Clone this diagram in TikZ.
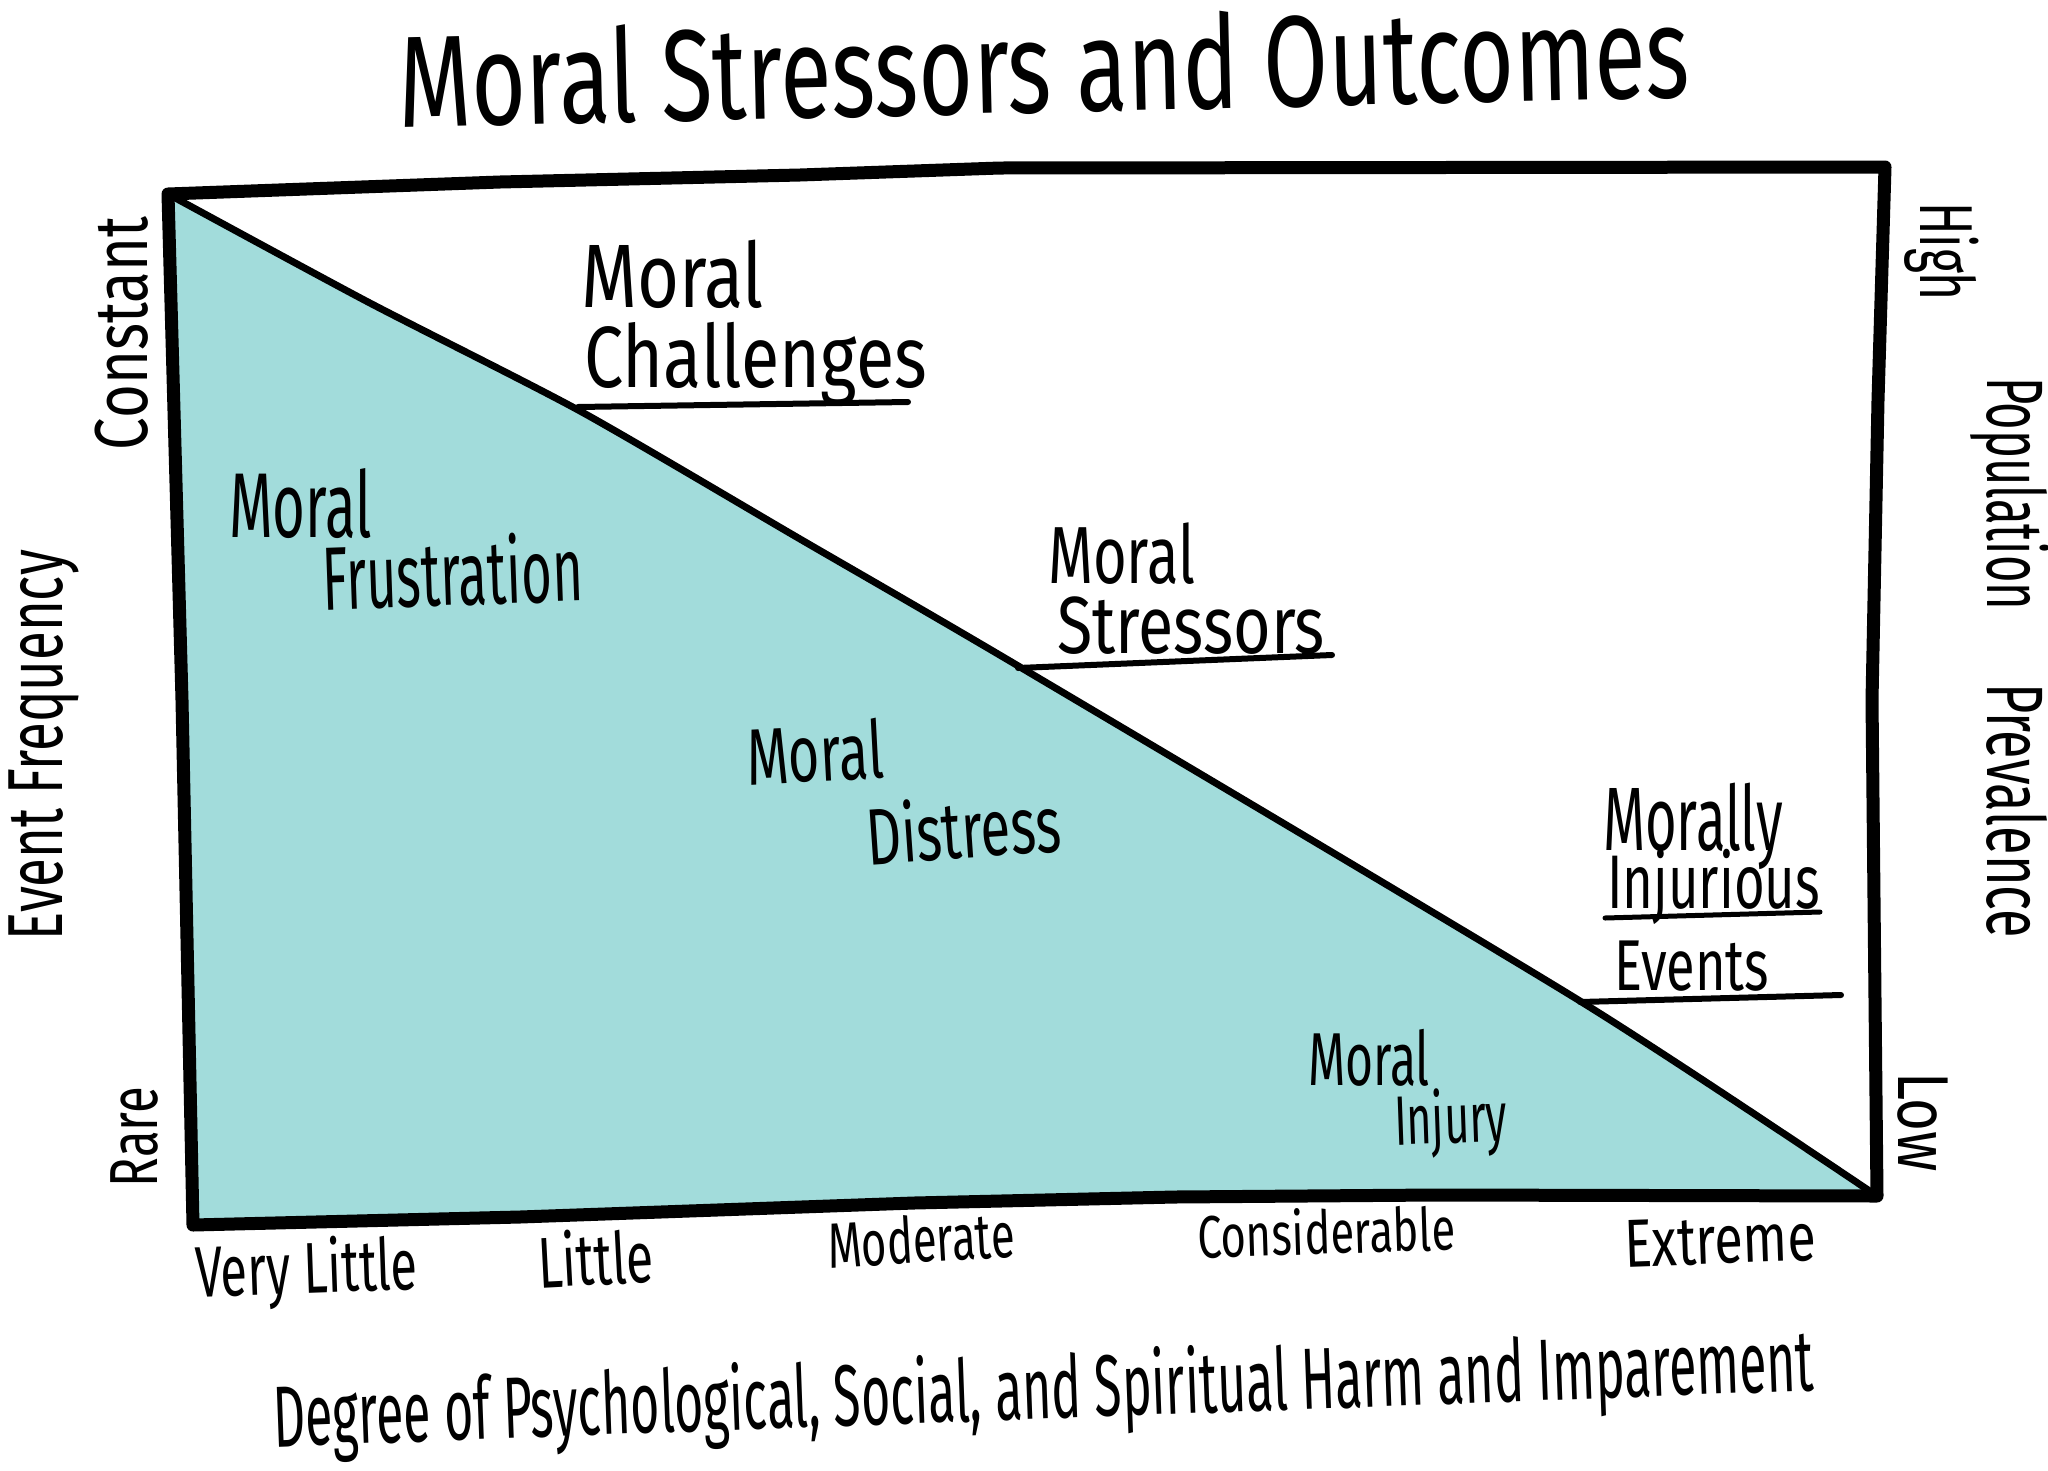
\documentclass[tikz,border=0pt]{standalone}
\usepackage{fontspec}
\setmainfont{Fira Sans}
\usepackage{graphicx}
\definecolor{tealfill}{RGB}{162,220,219}
\newcommand{\hw}[3]{\resizebox{#1pt}{\height}{\fontsize{#2pt}{#2pt}\selectfont #3}}
\tikzset{
  lbl/.style={inner sep=0pt, outer sep=0pt, anchor=base west, text=black},
  frame/.style={line width=13pt, line cap=round, line join=round},
  diag/.style={line width=7pt, line cap=round, line join=round},
  uline/.style={line width=6pt, line cap=round},
}
\begin{document}
\begin{tikzpicture}[x=1pt,y=-1pt]
\useasboundingbox (0,0) rectangle (2048,1470);
\fill[white] (0,0) rectangle (2048,1470);

% corners and diagonal points
\coordinate (TL) at (168,194);
\coordinate (TR) at (1885,167);
\coordinate (BR) at (1877,1196);
\coordinate (BL) at (193,1225);
\coordinate (d1) at (368,302);
\coordinate (d2) at (580,411);
\coordinate (d3) at (800,539);
\coordinate (d4) at (1020,667);
\coordinate (d6) at (1580,1001);
\coordinate (b1) at (1436,1195);
\coordinate (b2) at (1175,1197);
\coordinate (b3) at (914,1203);
\coordinate (b4) at (520,1217);
\coordinate (l1) at (182,700);

% teal area
\fill[tealfill] plot[smooth, tension=0.4] coordinates {(TL) (d1) (d2) (d3) (d4) (d6) (BR)}
  -- (b1) -- (b2) -- (b3) -- (b4) -- (BL) -- (l1) -- cycle;

% frame
\draw[frame] (TL) -- (500,182) -- (800,175) -- (1000,168) -- (TR)
  -- (1878,400) -- (1872,700) -- (1875,1000) -- (BR)
  -- (b1) -- (b2) -- (b3) -- (b4) -- (BL) -- (l1) -- cycle;

% diagonal
\draw[diag] plot[smooth, tension=0.4] coordinates {(TL) (d1) (d2) (d3) (d4) (d6) (BR)};

% title
\node[lbl, rotate=1.3] (title) at (399,127) {\hw{1292}{130}{Moral Stressors and Outcomes}};

% upper labels
\node[lbl] (mch) at (581,307) {\hw{183}{90}{Moral}};
\node[lbl] (ch) at (584,387) {\hw{343}{87}{Challenges}};
\coordinate (u1a) at (578,407); \coordinate (u1b) at (908,402);
\draw[uline] (u1a) -- (u1b);

\node[lbl] (mst) at (1048,583) {\hw{147}{81}{Moral}};
\node[lbl] (st) at (1057,653) {\hw{268}{81}{Stressors}};
\coordinate (u2a) at (1018,668); \coordinate (u2b) at (1332,655);
\draw[uline] (u2a) -- (u2b);

\node[lbl] (mly) at (1603,850) {\hw{180}{90}{Morally}};
\node[lbl] (inj) at (1607,908) {\hw{213}{76}{Injurious}};
\coordinate (u3a) at (1605,918); \coordinate (u3b) at (1820,912);
\draw[line width=5pt, line cap=round] (u3a) -- (u3b);
\node[lbl] (ev) at (1614,990) {\hw{155}{72}{Events}};
\coordinate (u4a) at (1580,1002); \coordinate (u4b) at (1841,995);
\draw[uline] (u4a) -- (u4b);

% lower labels
\node[lbl] (mfr) at (229,537) {\hw{143}{92}{Moral}};
\node[lbl, rotate=2] (fr) at (323,610) {\hw{261}{90}{Frustration}};
\node[lbl, rotate=3] (mdi) at (748,785) {\hw{137}{80}{Moral}};
\node[lbl, rotate=4] (di) at (868,865) {\hw{195}{80}{Distress}};
\node[lbl] (min) at (1308,1085) {\hw{122}{75}{Moral}};
\node[lbl, rotate=2] (in) at (1395,1145) {\hw{113}{70}{Injury}};

% left axis
\node[lbl, rotate=90] (const) at (147,450) {\hw{233}{75}{Constant}};
\node[lbl, rotate=90] (evf) at (62,940) {\hw{390}{78}{Event Frequency}};
\node[lbl, rotate=90] (rare) at (157,1187) {\hw{100}{68}{Rare}};

% right axis
\node[lbl, rotate=-90] (high) at (1920,202) {\hw{99}{75}{High}};
\node[lbl, rotate=-90] (pop) at (1987,377) {\hw{233}{80}{Population}};
\node[lbl, rotate=-90] (prev) at (1987,683) {\hw{255}{80}{Prevalence}};
\node[lbl, rotate=-90] (low) at (1898,1072) {\hw{100}{72}{Low}};

% bottom axis
\node[lbl, rotate=2] (vl) at (196,1297) {\hw{222}{72}{Very Little}};
\node[lbl, rotate=3] (lt) at (539,1288) {\hw{116}{72}{Little}};
\node[lbl, rotate=3.4] (mod) at (829,1268) {\hw{187}{64}{Moderate}};
\node[lbl, rotate=1.8] (cons) at (1198,1258) {\hw{258}{60}{Considerable}};
\node[lbl, rotate=2] (ext) at (1625,1267) {\hw{192}{68}{Extreme}};
\node[lbl, rotate=2.1] (deg) at (274,1447) {\hw{1542}{87}{Degree of Psychological, Social, and Spiritual Harm and Imparement}};
\end{tikzpicture}
\end{document}
